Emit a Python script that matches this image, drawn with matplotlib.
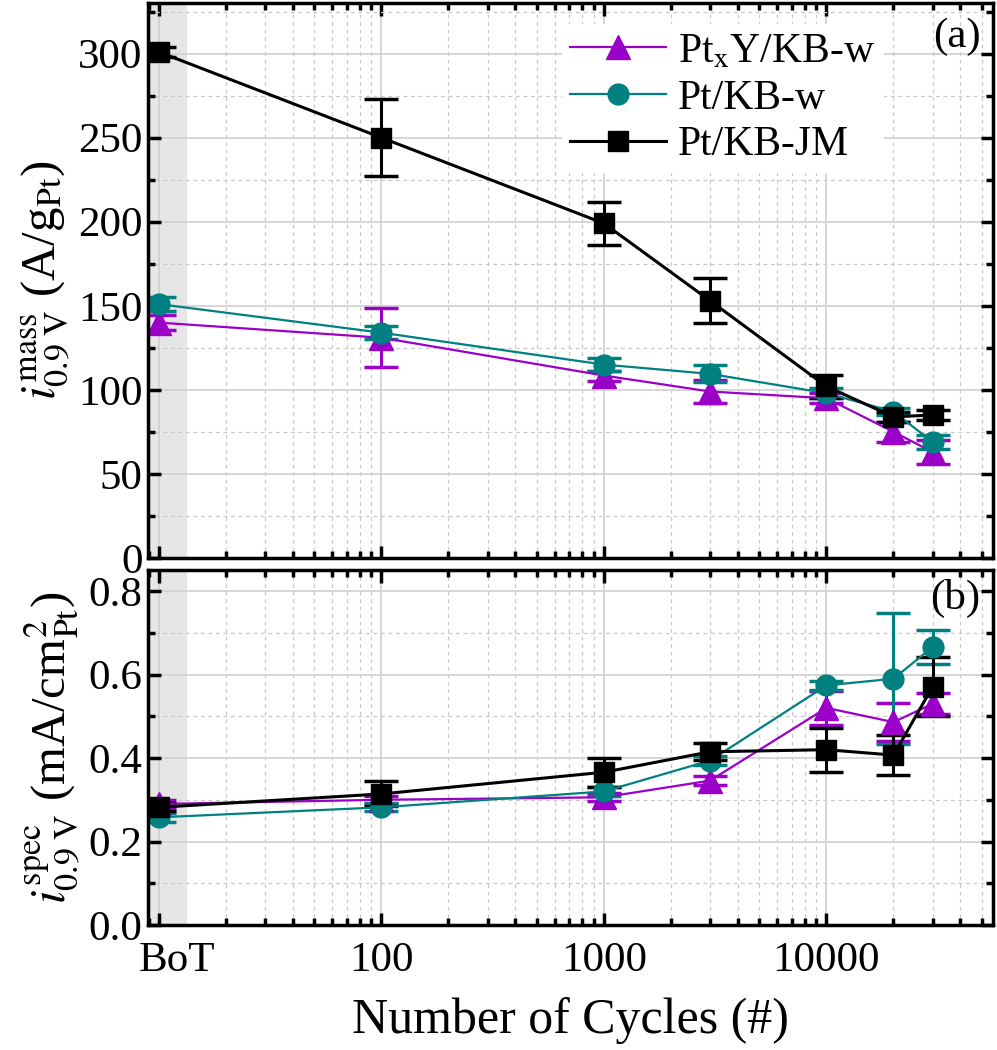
import numpy as np
import matplotlib
matplotlib.use('Agg')
from matplotlib import pyplot as plt
from matplotlib.lines import Line2D
import matplotlib.transforms as mtrans
from matplotlib.ticker import FixedLocator, LogLocator, MultipleLocator, NullFormatter

plt.rcParams['font.family'] = ['Liberation Serif', 'DejaVu Serif']
plt.rcParams['mathtext.fontset'] = 'stix'

# ---------------- data ----------------
cycles = [10, 100, 1000, 3000, 10000, 20000, 30000]   # 10 = BoT
tick_pos = [10, 100, 1000, 10000]
tick_lab = ['BoT', '100', '1000', '10000']

# (a) mass activity, A/g_Pt
mass_ptxy = [140, 131, 108.5, 99, 95, 75, 63]
mass_ptxy_err = [4.5, 17.5, 3, 7, 3, 6, 7]
mass_ptw = [151, 134, 115, 109.5, 98, 87, 69]
mass_ptw_err = [4, 4, 4, 5, 3, 2, 4]
mass_jm = [301, 250, 199, 153, 102, 84, 85]
mass_jm_err = [3, 23, 13, 13.5, 7, 3, 3]

# (b) specific activity, mA/cm2_Pt
spec_ptxy = [0.29, 0.30, 0.306, 0.346, 0.52, 0.486, 0.53]
spec_ptxy_err = [0.01, 0.01, 0.01, 0.01, 0.04, 0.046, 0.025]
spec_ptw = [0.258, 0.282, 0.32, 0.394, 0.574, 0.59, 0.666]
spec_ptw_err = [0.01, 0.01, 0.01, 0.01, 0.01, 0.157, 0.04]
spec_jm = [0.282, 0.314, 0.366, 0.415, 0.42, 0.407, 0.571]
spec_jm_err = [0.01, 0.03, 0.035, 0.02, 0.053, 0.048, 0.07]

purple = '#9B00C8'
teal = '#008080'
styles = [('Pt$_{\\rm x}$Y/KB-w', purple, '^', 17, 1.6),
          ('Pt/KB-w', teal, 'o', 15, 1.6),
          ('Pt/KB-JM', 'k', 's', 15, 2.2)]

fig = plt.figure(figsize=(9.97, 10.5), dpi=100)
ax1 = fig.add_axes([0.148, 0.4686, 0.848, 0.5284])
ax2 = fig.add_axes([0.148, 0.119, 0.848, 0.338], sharex=ax1)


def draw(ax, ys, errs):
    for (lab, c, m, ms, lw), y, e in zip(styles, ys, errs):
        ax.errorbar(cycles, y, yerr=e, color=c, marker=m, ms=ms, lw=lw,
                    elinewidth=2.2, capsize=12, capthick=2.5)


draw(ax1, [mass_ptxy, mass_ptw, mass_jm], [mass_ptxy_err, mass_ptw_err, mass_jm_err])
draw(ax2, [spec_ptxy, spec_ptw, spec_jm], [spec_ptxy_err, spec_ptw_err, spec_jm_err])

for ax in (ax1, ax2):
    ax.set_xscale('log')
    ax.set_xlim(8.9, 56000)
    ax.axvspan(8.9, 13.2, color='#e6e6e6', zorder=0)
    ax.xaxis.set_major_locator(FixedLocator(tick_pos))
    ax.xaxis.set_minor_locator(LogLocator(subs=np.arange(2, 10)))
    ax.xaxis.set_minor_formatter(NullFormatter())
    ax.set_axisbelow(True)
    ax.grid(which='major', color='#d0d0d0', lw=1.2, ls='-')
    ax.grid(which='minor', color='#c8c8c8', lw=0.9, ls=(0, (3, 3)))
    ax.tick_params(which='both', direction='in', top=True, right=True, width=2.5)
    ax.tick_params(which='major', length=9, labelsize=31)
    ax.tick_params(which='minor', length=5)
    for s in ax.spines.values():
        s.set_linewidth(2.5)

ax1.set_ylim(0, 330)
ax1.yaxis.set_major_locator(MultipleLocator(50))
ax1.yaxis.set_minor_locator(MultipleLocator(25))
plt.setp(ax1.get_xticklabels(), visible=False)
ax1.set_ylabel('$i^{\\rm mass}_{0.9\\ \\rm V}$ (A/g$_{\\rm Pt}$)', fontsize=35, labelpad=4)
ax1.text(0.985, 0.975, '(a)', transform=ax1.transAxes, ha='right', va='top', fontsize=31)

handles = [Line2D([], [], color=c, marker=m, ms=ms, lw=lw) for _, c, m, ms, lw in styles]
labels = [s[0] for s in styles]
ax1.legend(handles, labels, loc='upper left', bbox_to_anchor=(0.465, 1.0), fontsize=30,
           frameon=True, fancybox=False, framealpha=1, edgecolor='none',
           handlelength=2.3, borderpad=0.2, labelspacing=0.2, handletextpad=0.3)

ax2.set_ylim(0, 0.85)
ax2.yaxis.set_major_locator(MultipleLocator(0.2))
ax2.yaxis.set_minor_locator(MultipleLocator(0.1))
ax2.set_xticklabels(tick_lab)
ax2.tick_params(axis='x', which='major', pad=12)
ax2.set_ylabel('$i^{\\rm spec}_{0.9\\ \\rm V}$ (mA/cm$^2_{\\rm Pt}$)', fontsize=35, labelpad=4)
ax2.set_xlabel('Number of Cycles (#)', fontsize=36, labelpad=12)
ax2.text(0.985, 0.975, '(b)', transform=ax2.transAxes, ha='right', va='top', fontsize=31)

# BoT label sits to the right of its tick in the original
bot = ax2.xaxis.get_major_ticks()[0].label1
bot.set_transform(bot.get_transform() + mtrans.ScaledTranslation(0.18, 0, fig.dpi_scale_trans))

plt.savefig('out.png', dpi=100)
